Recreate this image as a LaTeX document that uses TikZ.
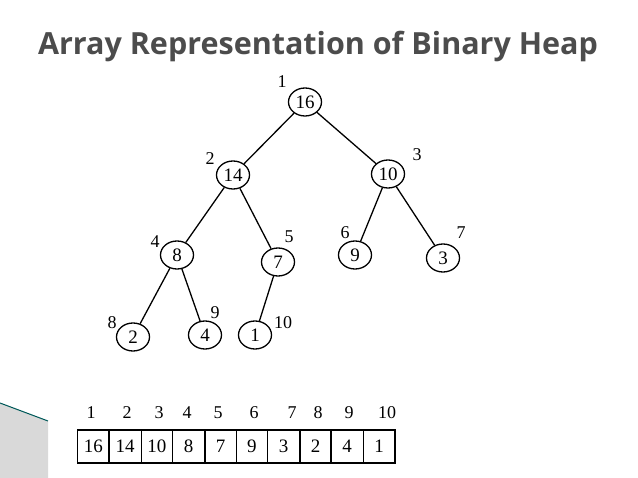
\documentclass[tikz,border=0pt]{standalone}
\usepackage{fontspec}
\setmainfont{Liberation Serif}
\newfontfamily\titlefont{Open Sans}
\usetikzlibrary{shapes.geometric}
\begin{document}
\begin{tikzpicture}[x=1pt,y=-1pt,
  hn/.style={draw,ellipse,line width=1.3pt,minimum width=33pt,minimum height=28pt,inner sep=0pt,font=\fontsize{19}{19}\selectfont},
  idx/.style={font=\fontsize{18}{18}\selectfont},
  cell/.style={draw,line width=1.1pt,minimum width=31.7pt,minimum height=33pt,inner sep=0pt,font=\fontsize{19}{19}\selectfont},
  edge/.style={line width=1.3pt}]
\useasboundingbox (0,0) rectangle (638,478);
\node[font=\titlefont\bfseries\fontsize{30.5}{30.5}\selectfont,text=black!70] (title) at (318,46) {Array Representation of Binary Heap};
% decoration
\fill[gray!30] (0,403) -- (48,421) -- (48,478) -- (0,478) -- cycle;
\draw[teal!70!black,line width=1pt] (0,403) -- (48,421);
% tree
\node[hn] (n1) at (305,102) {16};
\node[hn] (n2) at (233,175) {14};
\node[hn] (n3) at (388,174) {10};
\node[hn] (n4) at (177,255) {8};
\node[hn] (n5) at (278,262) {7};
\node[hn] (n6) at (355,255) {9};
\node[hn] (n7) at (443,258) {3};
\node[hn] (n8) at (133,337) {2};
\node[hn] (n9) at (205,335) {4};
\node[hn] (n10) at (255,335) {1};
\draw[edge] (n1) -- (n2); \draw[edge] (n1) -- (n3);
\draw[edge] (n2) -- (n4); \draw[edge] (n2) -- (n5);
\draw[edge] (n3) -- (n6); \draw[edge] (n3) -- (n7);
\draw[edge] (n4) -- (n8); \draw[edge] (n4) -- (n9);
\draw[edge] (n5) -- (n10);
\node[idx] (i1) at (282,82) {1};
\node[idx] (i2) at (210,159) {2};
\node[idx] (i3) at (417,155) {3};
\node[idx] (i4) at (155,242) {4};
\node[idx] (i5) at (289,237) {5};
\node[idx] (i6) at (345,233) {6};
\node[idx] (i7) at (461,233) {7};
\node[idx] (i8) at (112,323) {8};
\node[idx] (i9) at (215,313) {9};
\node[idx] (i10) at (283,323) {10};
% array
\foreach \xa/\xb/\v/\lx/\l [count=\k] in {77.7/109/16/91/1, 109/141.3/14/127/2, 141.3/172.3/10/159/3, 172.3/205/8/187/4, 205/236.3/7/218/5, 236.3/267.3/9/254/6, 267.3/300/3/292/7, 300/331/2/318/8, 331/363.3/4/349/9, 363.3/395/1/387/10} {
  \node[cell,minimum width={(\xb-\xa)*1pt}] (c\k) at ({(\xa+\xb)/2},446.5) {\v};
  \node[idx] (a\k) at (\lx,413) {\l};
}
\end{tikzpicture}
\end{document}
